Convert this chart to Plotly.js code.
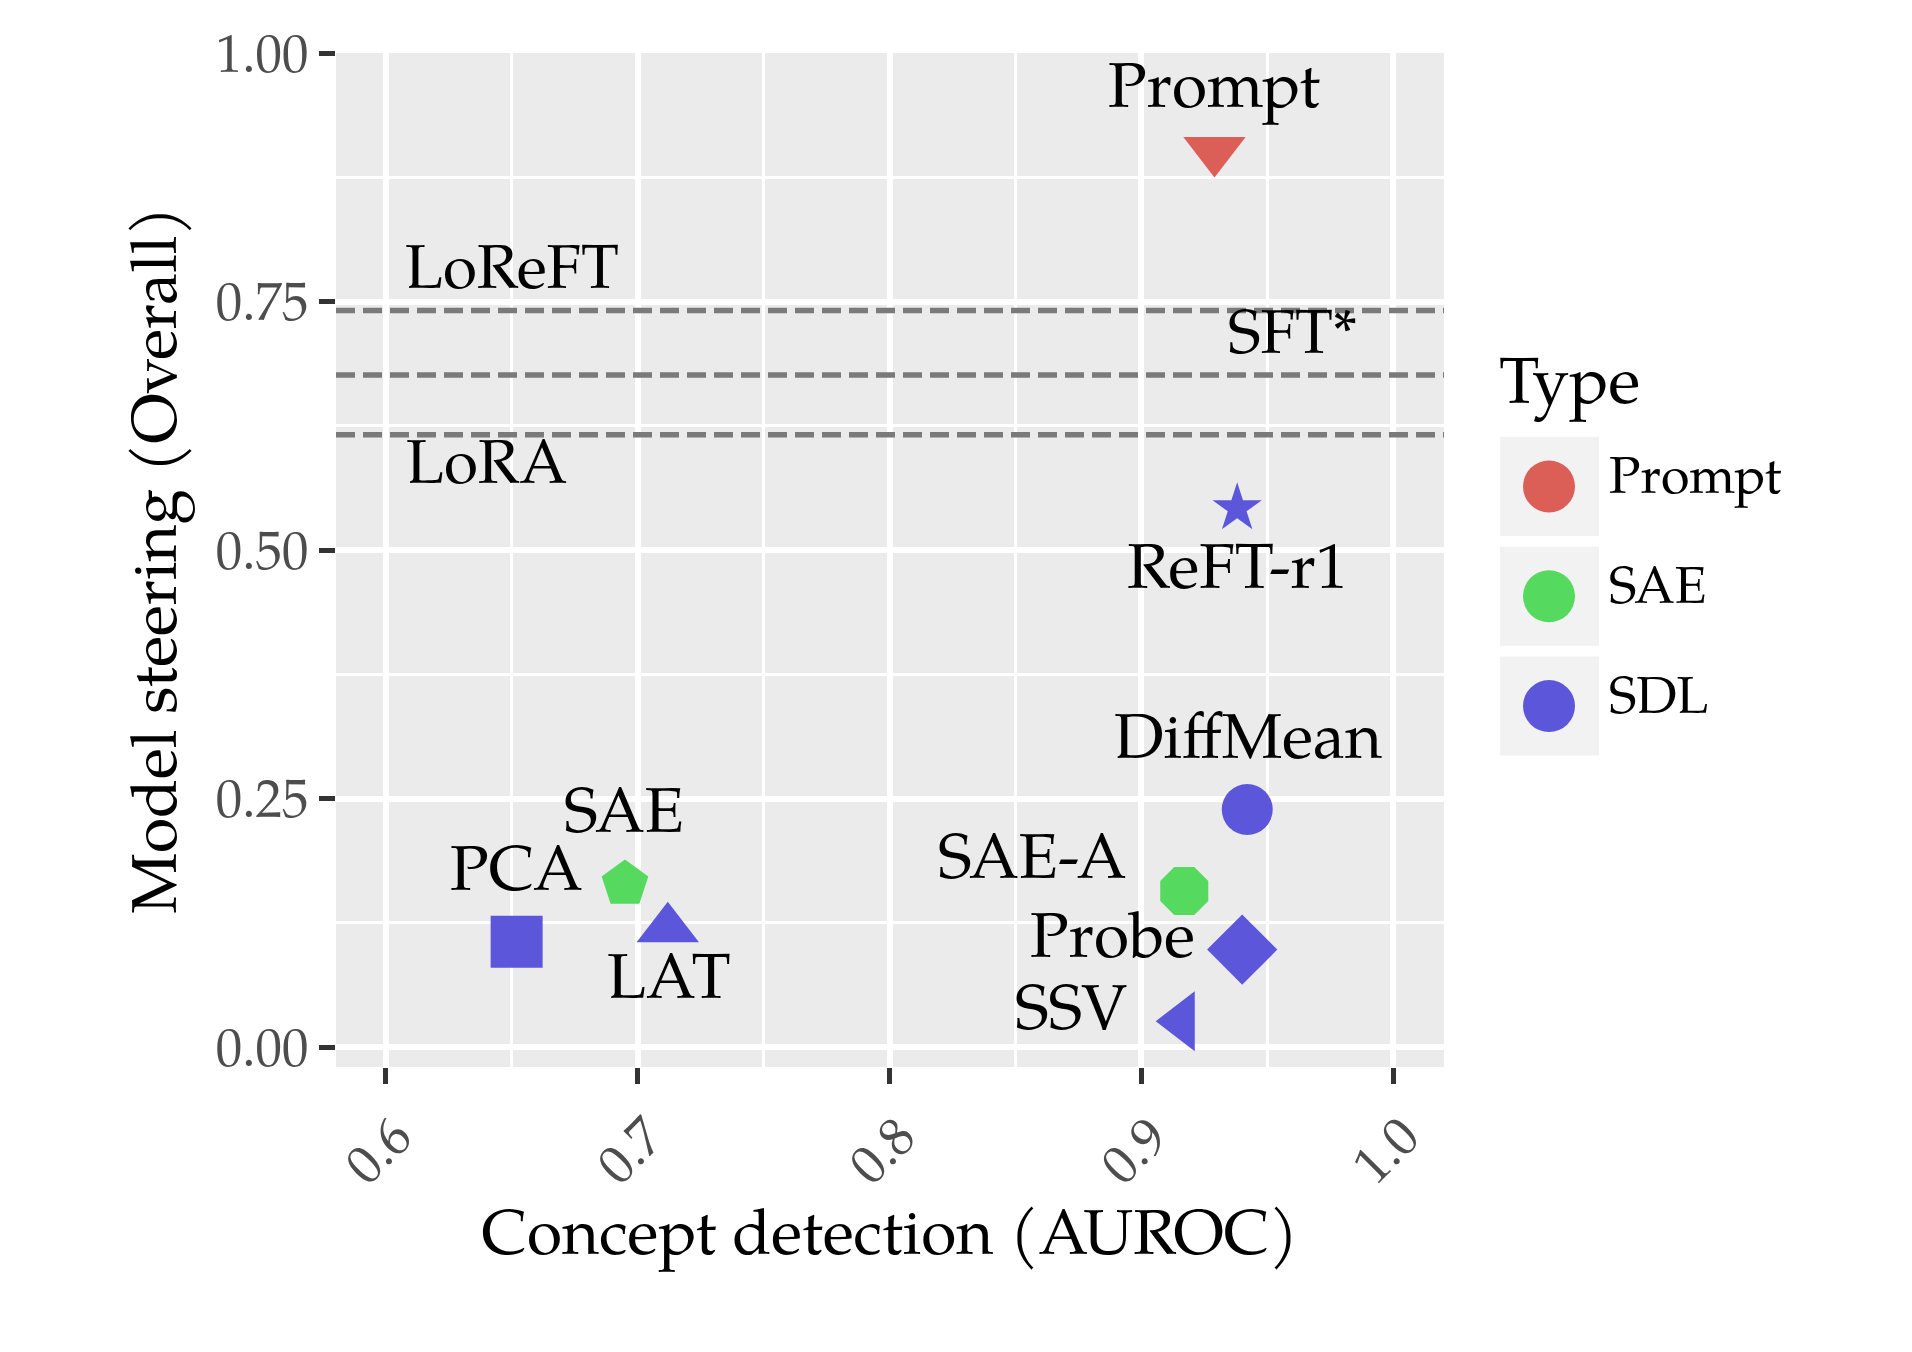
<!DOCTYPE html>
<html>
<head>
<meta charset="utf-8">
<script src="https://cdn.plot.ly/plotly-3.0.1.min.js"></script>
<style>
  html, body { margin: 0; padding: 0; background: #ffffff; }
  #chart { width: 1912px; height: 1352px; }
</style>
</head>
<body>
<div id="chart"></div>
<script>
// ---------------- data ----------------
const methods   = ['Prompt', 'ReFT-r1', 'DiffMean', 'SAE-A', 'Probe', 'SSV', 'SAE', 'PCA', 'LAT'];
const types     = ['Prompt', 'SDL', 'SDL', 'SAE', 'SDL', 'SDL', 'SAE', 'SDL', 'SDL'];
const detection = [0.929, 0.938, 0.942, 0.917, 0.940, 0.916, 0.695, 0.652, 0.712];   // AUROC
const steering  = [0.902, 0.542, 0.239, 0.157, 0.098, 0.026, 0.164, 0.106, 0.119];   // Overall

const baselineNames  = ['LoReFT', 'SFT*', 'LoRA'];
const baselineValues = [0.741, 0.676, 0.616];

const typeLevels = ['Prompt', 'SAE', 'SDL'];
const xTicks = [0.6, 0.7, 0.8, 0.9, 1.0];
const yTicks = [0.00, 0.25, 0.50, 0.75, 1.00];

// ---------------- styles ----------------
const FONT = "'Palatino Linotype', Palatino, 'TeX Gyre Pagella', 'URW Palladio L', 'Liberation Serif', serif";
const typeColor = { 'Prompt': '#DB5E57', 'SAE': '#55D95E', 'SDL': '#5C57DA' };
const markerStyle = {
  'Prompt':   { symbol: 'triangle-down', size: 54 },
  'ReFT-r1':  { symbol: 'star',          size: 37 },
  'DiffMean': { symbol: 'circle',        size: 51 },
  'SAE-A':    { symbol: 'octagon',       size: 52 },
  'Probe':    { symbol: 'diamond',       size: 54 },
  'SSV':      { symbol: 'triangle-left', size: 52 },
  'SAE':      { symbol: 'pentagon',      size: 49 },
  'PCA':      { symbol: 'square',        size: 52 },
  'LAT':      { symbol: 'triangle-up',   size: 54 }
};
// label placement relative to the point (pixels)
const labelPlace = {
  'Prompt':   { anchor: 'center', dx: 0,   dy: 57 },
  'ReFT-r1':  { anchor: 'center', dx: 0,   dy: -66 },
  'DiffMean': { anchor: 'center', dx: 1,   dy: 66 },
  'SAE-A':    { anchor: 'right',  dx: -56, dy: 27 },
  'Probe':    { anchor: 'right',  dx: -45, dy: 7 },
  'SSV':      { anchor: 'right',  dx: -53, dy: 6 },
  'SAE':      { anchor: 'center', dx: -1,  dy: 66 },
  'PCA':      { anchor: 'center', dx: 0,   dy: 66 },
  'LAT':      { anchor: 'center', dx: 1,   dy: -55 }
};
const baselineLabelPlace = {
  'LoReFT': { x: 0.650, dy: 36 },
  'SFT*':   { x: 0.960, dy: 36 },
  'LoRA':   { x: 0.640, dy: -34 }
};

const W = 1912, H = 1352;
const panel = { left: 336, right: 1444, top: 53, bottom: 1067 };
const legendBox = { left: 1500, right: 1900, top: 431.6, bottom: 760.9 };

// ---------------- traces ----------------
const traces = methods.map((m, i) => ({
  type: 'scatter', mode: 'markers',
  x: [detection[i]], y: [steering[i]],
  name: m, showlegend: false, hoverinfo: 'x+y+name',
  marker: { symbol: markerStyle[m].symbol, size: markerStyle[m].size,
            color: typeColor[types[i]], line: { width: 0 } },
  xaxis: 'x', yaxis: 'y'
}));

// legend keys drawn on a helper axis pair
traces.push({
  type: 'scatter', mode: 'markers',
  x: typeLevels.map(() => 49), y: typeLevels.map((t, k) => k),
  showlegend: false, hoverinfo: 'skip',
  marker: { symbol: 'circle', size: 52, color: typeLevels.map(t => typeColor[t]), line: { width: 0 } },
  xaxis: 'x2', yaxis: 'y2'
});

// ---------------- annotations ----------------
const annotations = [];
methods.forEach((m, i) => {
  const p = labelPlace[m];
  annotations.push({
    xref: 'x', yref: 'y', x: detection[i], y: steering[i],
    text: m, showarrow: false, xanchor: p.anchor, yanchor: 'middle',
    xshift: p.dx, yshift: p.dy,
    font: { family: FONT, size: 64, color: '#000000' }
  });
});
baselineNames.forEach((b, i) => {
  const p = baselineLabelPlace[b];
  annotations.push({
    xref: 'x', yref: 'y', x: p.x, y: baselineValues[i],
    text: b, showarrow: false, xanchor: 'center', yanchor: 'middle',
    yshift: p.dy,
    font: { family: FONT, size: 62, color: '#000000' }
  });
});
// legend title + labels
annotations.push({
  xref: 'paper', yref: 'paper', x: legendBox.left / W, y: 1 - 388 / H, text: 'Type', showarrow: false,
  xanchor: 'left', yanchor: 'middle', xshift: -3,
  font: { family: FONT, size: 66, color: '#000000' }
});
typeLevels.forEach((t, k) => {
  annotations.push({
    xref: 'x2', yref: 'y2', x: 107, y: k, text: t, showarrow: false,
    xanchor: 'left', yanchor: 'middle', yshift: 5,
    font: { family: FONT, size: 52, color: '#000000' }
  });
});

// ---------------- shapes ----------------
const shapes = [];
// panel background
shapes.push({ type: 'rect', xref: 'x domain', yref: 'y domain', x0: 0, x1: 1, y0: 0, y1: 1,
              fillcolor: '#EBEBEB', line: { width: 0 }, layer: 'below' });
baselineValues.forEach(v => {
  shapes.push({ type: 'line', xref: 'x domain', yref: 'y', x0: 0, x1: 1, y0: v, y1: v,
                line: { color: '#7A7A7A', width: 5.5, dash: '19px,8px' }, layer: 'above' });
});
typeLevels.forEach((t, k) => {
  shapes.push({ type: 'rect', xref: 'x2', yref: 'y2', x0: 0, x1: 99, y0: k - 0.451, y1: k + 0.451,
                fillcolor: '#F2F2F2', line: { width: 0 }, layer: 'below' });
});

// ---------------- layout ----------------
const layout = {
  width: W, height: H,
  margin: { l: 0, r: 0, t: 0, b: 0 },
  paper_bgcolor: '#ffffff', plot_bgcolor: 'rgba(0,0,0,0)',
  showlegend: false,
  font: { family: FONT, color: '#000000' },
  xaxis: {
    domain: [panel.left / W, panel.right / W],
    range: [0.5803, 1.0201], autorange: false,
    tickvals: xTicks, ticktext: xTicks.map(v => v.toFixed(1)), tickangle: -45,
    ticklabelshift: 10,
    ticks: 'outside', ticklen: 16, tickwidth: 5, tickcolor: '#333333',
    tickfont: { family: FONT, size: 53, color: '#4D4D4D' },
    showgrid: true, gridcolor: '#FFFFFF', gridwidth: 6,
    minor: { dtick: 0.05, tick0: 0.55, showgrid: true, gridcolor: '#FFFFFF', gridwidth: 3, ticks: '' },
    zeroline: false, showline: false, automargin: false,
    title: { text: 'Concept detection (AUROC)', font: { family: FONT, size: 64, color: '#000000' }, standoff: 12 }
  },
  yaxis: {
    domain: [1 - panel.bottom / H, 1 - panel.top / H],
    range: [-0.0201, 1.0], autorange: false,
    tickvals: yTicks, ticktext: yTicks.map(v => v.toFixed(2)),
    ticks: 'outside', ticklen: 16, tickwidth: 5, tickcolor: '#333333',
    tickfont: { family: FONT, size: 53, color: '#4D4D4D' },
    showgrid: true, gridcolor: '#FFFFFF', gridwidth: 6,
    minor: { dtick: 0.125, tick0: 0, showgrid: true, gridcolor: '#FFFFFF', gridwidth: 3, ticks: '' },
    zeroline: false, showline: false, automargin: false,
    title: { text: 'Model steering (Overall)', font: { family: FONT, size: 64, color: '#000000' }, standoff: 18 }
  },
  xaxis2: {
    domain: [legendBox.left / W, legendBox.right / W], range: [0, 400], autorange: false,
    visible: false, fixedrange: true, anchor: 'y2', showgrid: false, zeroline: false
  },
  yaxis2: {
    domain: [1 - legendBox.bottom / H, 1 - legendBox.top / H], range: [2.5, -0.5], autorange: false,
    visible: false, fixedrange: true, anchor: 'x2', showgrid: false, zeroline: false
  },
  annotations: annotations,
  shapes: shapes
};

Plotly.newPlot('chart', traces, layout, { displayModeBar: false, staticPlot: true });
</script>
</body>
</html>
